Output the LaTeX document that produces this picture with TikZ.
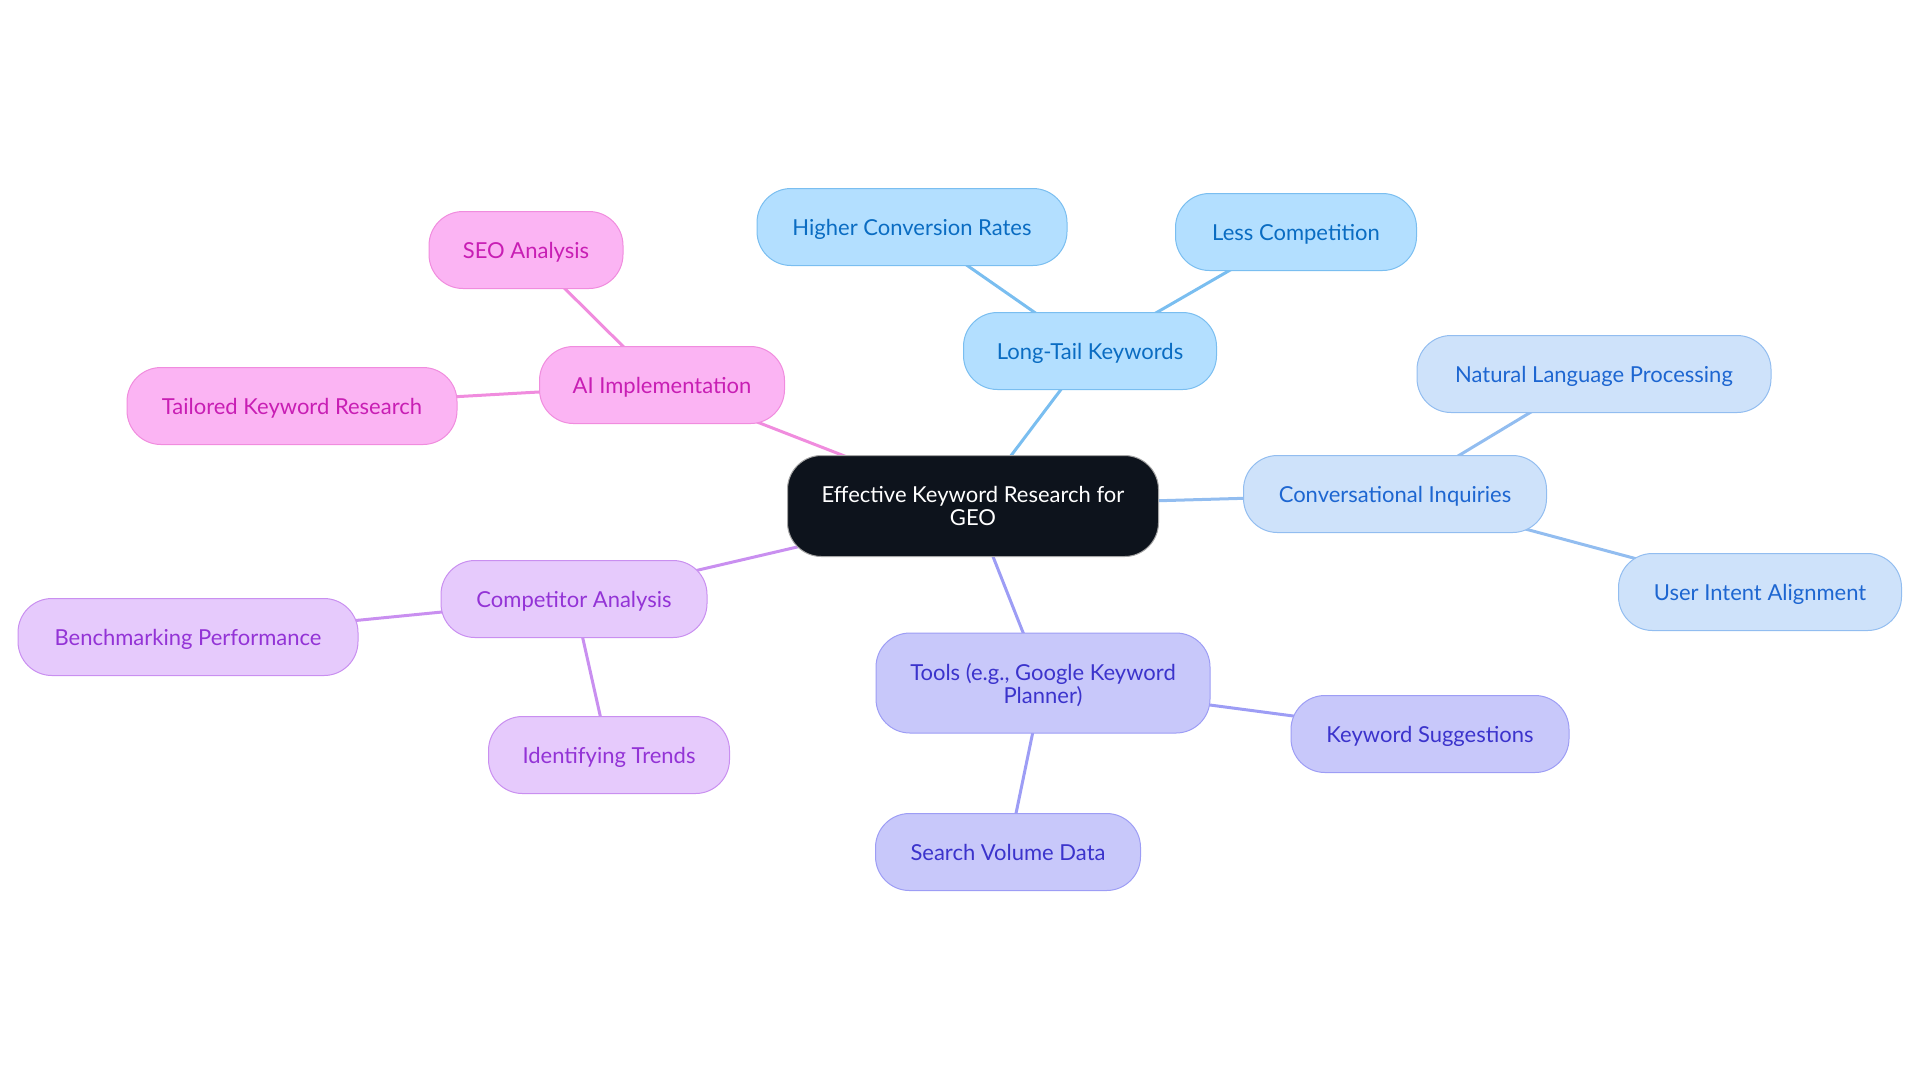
\documentclass[tikz,border=0pt]{standalone}
\usepackage{fontspec}
\setmainfont{Lato}
\definecolor{RootFill}{RGB}{13, 19, 28}
\definecolor{SkyFill}{RGB}{179, 223, 255}
\definecolor{SkyLine}{RGB}{122, 190, 240}
\definecolor{SkyText}{RGB}{10, 108, 194}
\definecolor{IceFill}{RGB}{206, 226, 250}
\definecolor{IceLine}{RGB}{146, 189, 240}
\definecolor{IceText}{RGB}{29, 102, 209}
\definecolor{PeriFill}{RGB}{200, 200, 250}
\definecolor{PeriLine}{RGB}{157, 157, 245}
\definecolor{PeriText}{RGB}{59, 51, 204}
\definecolor{LilacFill}{RGB}{230, 202, 252}
\definecolor{LilacLine}{RGB}{201, 143, 240}
\definecolor{LilacText}{RGB}{147, 51, 214}
\definecolor{PinkFill}{RGB}{251, 180, 243}
\definecolor{PinkLine}{RGB}{240, 140, 222}
\definecolor{PinkText}{RGB}{200, 30, 180}
\usetikzlibrary{backgrounds}

\tikzset{
    topic/.style={draw, line width=0.5pt, rounded corners=17pt, minimum height=38.5pt,
        inner xsep=8pt, align=center, text depth=0pt, font=\fontsize{11}{11.5}\selectfont},
    root/.style={topic, fill=RootFill, draw=gray!70, text=white, minimum height=50.5pt},
    sky/.style={topic, fill=SkyFill, draw=SkyLine, text=SkyText},
    ice/.style={topic, fill=IceFill, draw=IceLine, text=IceText},
    peri/.style={topic, fill=PeriFill, draw=PeriLine, text=PeriText},
    lilac/.style={topic, fill=LilacFill, draw=LilacLine, text=LilacText},
    pink/.style={topic, fill=PinkFill, draw=PinkLine, text=PinkText},
    link/.style={line width=1.5pt}
}

\begin{document}
\begin{tikzpicture}[x=0.5pt, y=-0.5pt]
    \useasboundingbox (0,0) rectangle (1920,1083);

    % Root
    \node[root, minimum width=185.5pt] (geo) at (973,506) {Effective Keyword Research for\\GEO};

    % Long-tail branch
    \node[sky, minimum width=126.5pt] (longtail) at (1090,351) {Long-Tail Keywords};
    \node[sky, minimum width=155pt] (conversion) at (912,227) {Higher Conversion Rates};
    \node[sky, minimum width=120.5pt] (competition) at (1296,232) {Less Competition};

    % Conversational branch
    \node[ice, minimum width=151.5pt] (inquiries) at (1395,494) {Conversational Inquiries};
    \node[ice, minimum width=177pt] (nlp) at (1594,374) {Natural Language Processing};
    \node[ice, minimum width=141.5pt] (intent) at (1760,592) {User Intent Alignment};

    % Tools branch
    \node[peri, minimum width=167pt, minimum height=50pt] (tools) at (1043,683) {Tools (e.g., Google Keyword\\Planner)};
    \node[peri, minimum width=139pt] (suggest) at (1430,734) {Keyword Suggestions};
    \node[peri, minimum width=132.5pt] (volume) at (1008,852) {Search Volume Data};

    % Competitor branch
    \node[lilac, minimum width=133pt] (rivals) at (574,599) {Competitor Analysis};
    \node[lilac, minimum width=170pt] (bench) at (188,637) {Benchmarking Performance};
    \node[lilac, minimum width=120.5pt] (trends) at (609,755) {Identifying Trends};

    % AI branch
    \node[pink, minimum width=122.5pt] (aiuse) at (662,385) {AI Implementation};
    \node[pink, minimum width=97pt] (seo) at (526,250) {SEO Analysis};
    \node[pink, minimum width=165pt] (tailored) at (292,406) {Tailored Keyword Research};

    % Links
    \begin{scope}[on background layer]
        \draw[link, SkyLine] (geo.center) -- (longtail.center);
        \draw[link, SkyLine] (longtail.center) -- (conversion.center);
        \draw[link, SkyLine] (longtail.center) -- (competition.center);
        \draw[link, IceLine] (geo.center) -- (inquiries.center);
        \draw[link, IceLine] (inquiries.center) -- (nlp.center);
        \draw[link, IceLine] (inquiries.center) -- (intent.center);
        \draw[link, PeriLine] (geo.center) -- (tools.center);
        \draw[link, PeriLine] (tools.center) -- (suggest.center);
        \draw[link, PeriLine] (tools.center) -- (volume.center);
        \draw[link, LilacLine] (geo.center) -- (rivals.center);
        \draw[link, LilacLine] (rivals.center) -- (bench.center);
        \draw[link, LilacLine] (rivals.center) -- (trends.center);
        \draw[link, PinkLine] (geo.center) -- (aiuse.center);
        \draw[link, PinkLine] (aiuse.center) -- (seo.center);
        \draw[link, PinkLine] (aiuse.center) -- (tailored.center);
    \end{scope}
\end{tikzpicture}
\end{document}
